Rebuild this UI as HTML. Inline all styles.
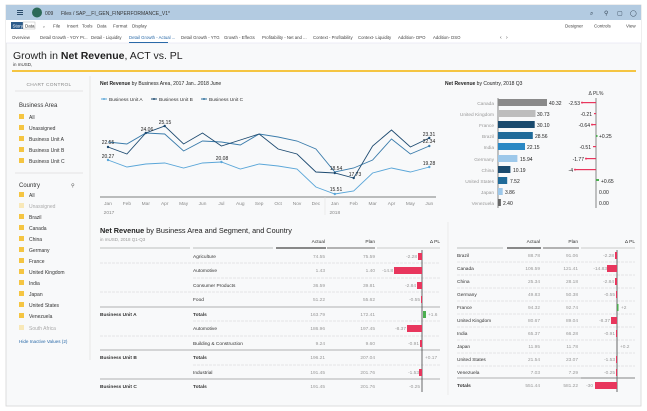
<!DOCTYPE html><html><head><meta charset="utf-8"><style>
body{margin:0;background:#fff;}
svg{display:block;font-family:"Liberation Sans",sans-serif;}
</style></head><body>
<svg width="647" height="411" viewBox="0 0 647 411">
<rect x="0" y="0" width="647" height="411" fill="#fff"/>
<rect x="6" y="5" width="635" height="401" fill="#f8f9fa" stroke="#d6d6d6" stroke-width="0.8"/>
<!-- shell bar -->
<rect x="6" y="5" width="635" height="15" fill="#b3cbe1"/>
<rect x="17" y="10" width="6" height="1" fill="#2c4d6c"/><rect x="17" y="12" width="6" height="1" fill="#2c4d6c"/><rect x="17" y="14" width="6" height="1" fill="#2c4d6c"/>
<circle cx="37" cy="12.5" r="5" fill="#2d6a58"/>
<text x="45" y="15" font-size="5" fill="#333">009</text>
<text x="61" y="15" font-size="5" fill="#333">Files  /  SAP__FI_GEN_FINPERFORMANCE_V1*</text>
<text x="590" y="15" font-size="6" fill="#345">⌕</text><text x="604" y="15" font-size="6" fill="#345">⚲</text><text x="617" y="15" font-size="6" fill="#345">▢</text><text x="630" y="15" font-size="6" fill="#345">◯</text>
<!-- toolbar -->
<rect x="6" y="20" width="635" height="11" fill="#fff"/>
<rect x="11" y="22" width="12" height="7" fill="#2c5b8a"/><text x="12.5" y="27.5" font-size="4.5" fill="#fff">Story</text>
<rect x="23" y="22" width="12" height="7" fill="#fff" stroke="#aaa" stroke-width="0.4"/><text x="25" y="27.5" font-size="4.5" fill="#333">Data</text>
<g font-size="4.5" fill="#444"><text x="42" y="27.5">⌄</text><text x="53" y="27.5">File</text><text x="67" y="27.5">Insert</text><text x="82" y="27.5">Tools</text><text x="97" y="27.5">Data</text><text x="113" y="27.5">Format</text><text x="132" y="27.5">Display</text></g>
<text x="565" y="27.5" font-size="4.5" fill="#444">Designer</text><text x="594" y="27.5" font-size="4.5" fill="#444">Controls</text><text x="626" y="27.5" font-size="4.5" fill="#444">View</text>
<!-- tabs -->
<rect x="6" y="31" width="635" height="12" fill="#fff"/>
<line x1="6" y1="43" x2="641" y2="43" stroke="#dde" stroke-width="0.5"/>
<g font-size="4.3" fill="#444">
<text x="12" y="39">Overview</text><text x="40" y="39">Detail Growth - YOY Pr...</text><text x="91" y="39">Detail - Liquidity</text>
<text x="129" y="39" fill="#2a6aa8">Detail Growth - Actual ...</text><text x="181" y="39">Detail Growth - YTG</text>
<text x="224" y="39">Growth - Effects</text><text x="262" y="39">Profitability - Net and ...</text><text x="313" y="39">Context - Profitability</text>
<text x="358" y="39">Context- Liquidity</text><text x="398" y="39">Addition- DPO</text><text x="433" y="39">Addition- DSO</text>
<text x="500" y="39" font-size="5">‹</text><text x="506" y="39" font-size="5">›</text></g>
<rect x="129" y="42" width="39" height="1" fill="#2a6aa8"/>
<!-- title -->
<text x="13" y="59" font-size="10.5" fill="#222">Growth in <tspan font-weight="bold">Net Revenue</tspan>, ACT vs. PL</text>
<text x="13" y="66" font-size="4.5" fill="#333">in mUSD,</text>
<rect x="12" y="70" width="624" height="2" fill="#f5c542"/>
<!-- left panel -->
<line x1="90" y1="76" x2="90" y2="360" stroke="#e2e2e2" stroke-width="0.8"/>
<text x="49" y="86" font-size="4.8" fill="#888" text-anchor="middle" letter-spacing="0.3">CHART CONTROL</text>
<line x1="15" y1="91" x2="83" y2="91" stroke="#ddd" stroke-width="0.8"/>
<text x="19" y="107" font-size="6" fill="#333">Business Area</text>
<g font-size="5" fill="#333">
<g fill="#f5c542"><rect x="19" y="114" width="5" height="5"/><rect x="19" y="125" width="5" height="5"/><rect x="19" y="136" width="5" height="5"/><rect x="19" y="147" width="5" height="5"/><rect x="19" y="158" width="5" height="5"/></g>
<text x="29" y="119">All</text><text x="29" y="130">Unassigned</text><text x="29" y="141">Business Unit A</text><text x="29" y="152">Business Unit B</text><text x="29" y="163">Business Unit C</text>
</g>
<line x1="15" y1="173" x2="83" y2="173" stroke="#ddd" stroke-width="0.8"/>
<text x="19" y="187" font-size="6" fill="#333">Country</text><text x="71" y="187" font-size="5" fill="#555">⚲</text>
<g font-size="5" fill="#333">
<g fill="#f5c542"><rect x="19" y="192" width="5" height="5"/><rect x="19" y="214" width="5" height="5"/><rect x="19" y="225" width="5" height="5"/><rect x="19" y="236" width="5" height="5"/><rect x="19" y="247" width="5" height="5"/><rect x="19" y="258" width="5" height="5"/><rect x="19" y="269" width="5" height="5"/><rect x="19" y="280" width="5" height="5"/><rect x="19" y="291" width="5" height="5"/><rect x="19" y="302" width="5" height="5"/><rect x="19" y="313" width="5" height="5"/></g>
<g fill="#f8e8b8"><rect x="19" y="203" width="5" height="5"/><rect x="19" y="325" width="5" height="5"/></g>
<text x="29" y="197">All</text><text x="29" y="208" fill="#aaa">Unassigned</text><text x="29" y="219">Brazil</text><text x="29" y="230">Canada</text><text x="29" y="241">China</text><text x="29" y="252">Germany</text><text x="29" y="263">France</text><text x="29" y="274">United Kingdom</text><text x="29" y="285">India</text><text x="29" y="296">Japan</text><text x="29" y="307">United States</text><text x="29" y="318">Venezuela</text><text x="29" y="330" fill="#aaa">South Africa</text>
<text x="19" y="343" fill="#2a6aa8" font-size="4.6">Hide Inactive Values (2)</text>
</g>
<!-- line chart -->
<text x="100" y="85" font-size="5" fill="#222"><tspan font-weight="bold">Net Revenue</tspan> by Business Area, 2017 Jan...2018 June</text>
<g font-size="4.8" fill="#333">
<line x1="101" y1="99" x2="107" y2="99" stroke="#5aa6d8"/><circle cx="104" cy="99" r="1" fill="#5aa6d8"/><text x="109" y="101">Business Unit A</text>
<line x1="151" y1="99" x2="157" y2="99" stroke="#1d4a70"/><circle cx="154" cy="99" r="1" fill="#1d4a70"/><text x="159" y="101">Business Unit B</text>
<line x1="201" y1="99" x2="207" y2="99" stroke="#2e6f9c"/><circle cx="204" cy="99" r="1" fill="#2e6f9c"/><text x="209" y="101">Business Unit C</text>
</g>
<polyline fill="none" stroke="#3b7cab" stroke-width="0.9" points="108,142 126.9,144 145.8,133 164.7,134 183.6,151 202.5,141 221.4,142 240.3,145 259.2,134 278.1,137 297,141 315.9,149 334.8,172 353.7,168 372.6,160 391.5,139 410.4,154 429.3,146"/>
<polyline fill="none" stroke="#1d4a70" stroke-width="0.9" points="108,147 126.9,154 145.8,133 164.7,126 183.6,144 202.5,133 221.4,146 240.3,140 259.2,134 278.1,149 297,154 315.9,172 334.8,173 353.7,178 372.6,146 391.5,130 410.4,147 429.3,138"/>
<polyline fill="none" stroke="#5aa6d8" stroke-width="0.9" points="108,160 126.9,167 145.8,164 164.7,163 183.6,168 202.5,163 221.4,162 240.3,169 259.2,164 278.1,166 297,169 315.9,187 334.8,194 353.7,191 372.6,173 391.5,168 410.4,172 429.3,167"/>
<g fill="#1d4a70"><circle cx="108" cy="147" r="1.2"/><circle cx="145.8" cy="133" r="1.2"/><circle cx="164.7" cy="126" r="1.2"/><circle cx="334.8" cy="173" r="1.2"/><circle cx="353.7" cy="178" r="1.2"/><circle cx="429.3" cy="138" r="1.2"/></g>
<g fill="#3b7cab"><circle cx="429.3" cy="146" r="1.2"/></g>
<g fill="#5aa6d8"><circle cx="108" cy="160" r="1.2"/><circle cx="221.4" cy="162" r="1.2"/><circle cx="334.8" cy="194" r="1.2"/><circle cx="429.3" cy="167" r="1.2"/></g>
<g font-size="5" fill="#222" text-anchor="middle">
<text x="108" y="144">22.55</text><text x="147" y="131">24.06</text><text x="165" y="124">25.15</text><text x="108" y="158">20.27</text><text x="222" y="160">20.08</text>
<text x="336" y="170">18.54</text><text x="355" y="176">17.73</text><text x="336" y="191">15.51</text>
<text x="429" y="136">23.31</text><text x="429" y="143">22.34</text><text x="429" y="165">19.28</text></g>
<line x1="100" y1="197" x2="436" y2="197" stroke="#555" stroke-width="0.7"/>
<line x1="325" y1="197" x2="325" y2="215" stroke="#ddd" stroke-width="0.5"/>
<g font-size="4.8" fill="#888" text-anchor="middle">
<text x="108" y="205">Jan</text><text x="126.9" y="205">Feb</text><text x="145.8" y="205">Mar</text><text x="164.7" y="205">Apr</text><text x="183.6" y="205">May</text><text x="202.5" y="205">Jun</text><text x="221.4" y="205">Jul</text><text x="240.3" y="205">Aug</text><text x="259.2" y="205">Sep</text><text x="278.1" y="205">Oct</text><text x="297" y="205">Nov</text><text x="315.9" y="205">Dec</text><text x="334.8" y="205">Jan</text><text x="353.7" y="205">Feb</text><text x="372.6" y="205">Mar</text><text x="391.5" y="205">Apr</text><text x="410.4" y="205">May</text><text x="429.3" y="205">Jun</text>
<text x="109" y="214">2017</text><text x="334.8" y="214">2018</text></g>
<!-- bar chart by country -->
<text x="445" y="85" font-size="5" fill="#222"><tspan font-weight="bold">Net Revenue</tspan> by Country, 2018 Q3</text>
<text x="596" y="95" font-size="5" fill="#333" text-anchor="middle">Δ PL%</text>
<line x1="498" y1="98" x2="498" y2="208" stroke="#555" stroke-width="0.7"/>
<line x1="596" y1="98" x2="596" y2="208" stroke="#555" stroke-width="0.7"/>
<g font-size="4.8" text-anchor="end" fill="#999">
<text x="494" y="105">Canada</text><text x="494" y="116">United Kingdom</text><text x="494" y="127">France</text><text x="494" y="138">Brazil</text><text x="494" y="149">India</text><text x="494" y="161">Germany</text><text x="494" y="172">China</text><text x="494" y="183">United States</text><text x="494" y="194">Japan</text><text x="494" y="205">Venezuela</text></g>
<rect x="498" y="99" width="49" height="7" fill="#8a8a8a"/>
<rect x="498" y="110" width="37.5" height="7" fill="#bdbdbd"/>
<rect x="498" y="121" width="36.7" height="7" fill="#1a4a6e"/>
<rect x="498" y="132" width="34.8" height="7" fill="#1f6a99"/>
<rect x="498" y="143" width="27" height="7" fill="#2a88c4"/>
<rect x="498" y="155" width="19.4" height="7" fill="#9dc8ea"/>
<rect x="498" y="166" width="12.4" height="7" fill="#1a4a6e"/>
<rect x="498" y="177" width="9.2" height="7" fill="#1f6a99"/>
<rect x="498" y="188" width="4.7" height="7" fill="#9dc8ea"/>
<rect x="498" y="199" width="2.9" height="7" fill="#666"/>
<g font-size="5" fill="#222">
<text x="549" y="105">40.32</text><text x="537" y="116">30.73</text><text x="537" y="127">30.10</text><text x="535" y="138">28.56</text><text x="527" y="149">22.15</text><text x="520" y="161">15.94</text><text x="513" y="172">10.19</text><text x="510" y="183">7.52</text><text x="505" y="194">3.86</text><text x="503" y="205">2.40</text></g>
<g fill="#e8365d">
<rect x="582" y="102" width="14" height="1.2"/><rect x="594" y="113" width="2" height="1.2"/><rect x="592" y="124" width="4" height="1.2"/><rect x="593" y="146" width="3" height="1.2"/><rect x="586" y="158" width="10" height="1.2"/><rect x="575" y="169" width="21" height="1.2"/></g>
<g fill="#e8365d"><circle cx="582" cy="102.6" r="1"/><circle cx="592" cy="124.6" r="1"/><circle cx="586" cy="158.6" r="1"/><circle cx="575" cy="169.6" r="1"/></g>
<rect x="596" y="135" width="1.5" height="2" fill="#4caf50"/><rect x="596" y="179" width="3" height="2" fill="#4caf50"/>
<g font-size="5" fill="#222">
<text x="580" y="105" text-anchor="end">-2.53</text><text x="592" y="116" text-anchor="end">-0.21</text><text x="590" y="127" text-anchor="end">-0.64</text><text x="599" y="138">+0.25</text><text x="591" y="149" text-anchor="end">-0.51</text><text x="584" y="161" text-anchor="end">-1.77</text><text x="573" y="172" text-anchor="end">-4</text><text x="601" y="183">+0.65</text><text x="599" y="194">0.00</text><text x="599" y="205">0.00</text></g>
<!-- bottom left table -->
<text x="100" y="233" font-size="7.3" fill="#222"><tspan font-weight="bold">Net Revenue</tspan> by Business Area and Segment, and Country</text>
<text x="100" y="241" font-size="4.5" fill="#999">in mUSD, 2018 Q1-Q3</text>
<g font-size="4.8" fill="#333" text-anchor="end"><text x="325" y="243">Actual</text><text x="375" y="243">Plan</text><text x="440" y="243">Δ PL</text></g>
<line x1="100" y1="248" x2="190" y2="248" stroke="#aaa" stroke-width="0.8"/>
<line x1="193" y1="248" x2="273" y2="248" stroke="#aaa" stroke-width="0.8"/>
<line x1="276" y1="248" x2="326" y2="248" stroke="#444" stroke-width="1.2"/>
<line x1="327" y1="248" x2="375" y2="248" stroke="#888" stroke-width="1.2"/>
<line x1="377" y1="248" x2="440" y2="248" stroke="#bbb" stroke-width="0.8"/>
<g stroke="#d0d0d0" stroke-width="0.5" stroke-dasharray="3,1">
<line x1="100" y1="263" x2="440" y2="263"/><line x1="193" y1="278" x2="440" y2="278"/><line x1="100" y1="292" x2="440" y2="292"/><line x1="193" y1="321" x2="440" y2="321"/><line x1="100" y1="336" x2="440" y2="336"/><line x1="193" y1="365" x2="440" y2="365"/></g>
<g stroke="#999" stroke-width="0.8"><line x1="100" y1="307" x2="440" y2="307"/><line x1="100" y1="350" x2="440" y2="350"/><line x1="100" y1="379" x2="440" y2="379"/></g>
<g font-size="4.8" fill="#333">
<text x="193" y="258">Agriculture</text><text x="193" y="272">Automotive</text><text x="193" y="287">Consumer Products</text><text x="193" y="301">Food</text>
<text x="100" y="316" font-weight="bold">Business Unit A</text><text x="193" y="316" font-weight="bold">Totals</text>
<text x="193" y="330">Automotive</text><text x="193" y="345">Building &amp; Construction</text>
<text x="100" y="359" font-weight="bold">Business Unit B</text><text x="193" y="359" font-weight="bold">Totals</text>
<text x="193" y="374">Industrial</text>
<text x="100" y="388" font-weight="bold">Business Unit C</text><text x="193" y="388" font-weight="bold">Totals</text></g>
<g font-size="4.8" fill="#999" text-anchor="end">
<text x="325" y="258">74.55</text><text x="375" y="258">75.59</text>
<text x="325" y="272">1.43</text><text x="375" y="272">1.40</text>
<text x="325" y="287">36.59</text><text x="375" y="287">39.81</text>
<text x="325" y="301">51.22</text><text x="375" y="301">55.62</text>
<text x="325" y="316">163.79</text><text x="375" y="316">172.41</text>
<text x="325" y="330">186.96</text><text x="375" y="330">197.45</text>
<text x="325" y="345">9.24</text><text x="375" y="345">9.60</text>
<text x="325" y="359">196.21</text><text x="375" y="359">207.04</text>
<text x="325" y="374">191.45</text><text x="375" y="374">201.76</text>
<text x="325" y="388">191.45</text><text x="375" y="388">201.76</text>
<text x="417" y="258">-2.28</text><text x="393" y="272">-14.8</text><text x="416" y="287">-2.84</text><text x="420" y="301">-0.55</text><text x="406" y="330">-8.37</text><text x="419" y="345">-0.91</text><text x="419" y="374">-1.53</text><text x="420" y="388">-0.25</text></g>
<g font-size="4.8" fill="#999"><text x="428" y="316">+1.6</text><text x="425" y="359">+0.17</text></g>
<line x1="422" y1="250" x2="422" y2="392" stroke="#444" stroke-width="0.8"/>
<g fill="#e8365d"><rect x="418" y="253" width="4" height="7"/><rect x="394" y="267" width="28" height="7"/><rect x="417" y="282" width="5" height="7"/><rect x="421" y="296" width="1" height="7"/><rect x="407" y="325" width="15" height="7"/><rect x="420" y="340" width="2" height="7"/><rect x="419" y="369" width="3" height="7"/></g>
<rect x="423" y="311" width="3" height="7" fill="#4caf50"/>
<!-- bottom right table -->
<line x1="448" y1="222" x2="448" y2="395" stroke="#e2e2e2" stroke-width="0.6"/>
<g font-size="4.8" fill="#333" text-anchor="end"><text x="540" y="243">Actual</text><text x="578" y="243">Plan</text><text x="635" y="243">Δ PL</text></g>
<line x1="457" y1="248" x2="503" y2="248" stroke="#aaa" stroke-width="0.8"/>
<line x1="507" y1="248" x2="541" y2="248" stroke="#444" stroke-width="1.2"/>
<line x1="543" y1="248" x2="579" y2="248" stroke="#888" stroke-width="1.2"/>
<line x1="581" y1="248" x2="635" y2="248" stroke="#bbb" stroke-width="0.8"/>
<g stroke="#d0d0d0" stroke-width="0.5" stroke-dasharray="3,1">
<line x1="457" y1="262" x2="635" y2="262"/><line x1="457" y1="275" x2="635" y2="275"/><line x1="457" y1="288" x2="635" y2="288"/><line x1="457" y1="301" x2="635" y2="301"/><line x1="457" y1="314" x2="635" y2="314"/><line x1="457" y1="327" x2="635" y2="327"/><line x1="457" y1="340" x2="635" y2="340"/><line x1="457" y1="353" x2="635" y2="353"/><line x1="457" y1="366" x2="635" y2="366"/></g>
<line x1="457" y1="378" x2="635" y2="378" stroke="#999" stroke-width="0.8"/>
<g font-size="4.8" fill="#333">
<text x="457" y="257">Brazil</text><text x="457" y="270">Canada</text><text x="457" y="283">China</text><text x="457" y="296">Germany</text><text x="457" y="309">France</text><text x="457" y="322">United Kingdom</text><text x="457" y="335">India</text><text x="457" y="348">Japan</text><text x="457" y="361">United States</text><text x="457" y="374">Venezuela</text><text x="457" y="387" font-weight="bold">Totals</text></g>
<g font-size="4.8" fill="#999" text-anchor="end">
<text x="540" y="257">88.78</text><text x="578" y="257">91.06</text>
<text x="540" y="270">106.59</text><text x="578" y="270">121.41</text>
<text x="540" y="283">25.34</text><text x="578" y="283">28.18</text>
<text x="540" y="296">49.83</text><text x="578" y="296">50.38</text>
<text x="540" y="309">94.32</text><text x="578" y="309">92.74</text>
<text x="540" y="322">80.67</text><text x="578" y="322">89.04</text>
<text x="540" y="335">65.37</text><text x="578" y="335">66.28</text>
<text x="540" y="348">11.95</text><text x="578" y="348">11.78</text>
<text x="540" y="361">21.54</text><text x="578" y="361">23.07</text>
<text x="540" y="374">7.03</text><text x="578" y="374">7.29</text>
<text x="540" y="387">551.44</text><text x="578" y="387">581.22</text>
<text x="614" y="257">-2.28</text><text x="607" y="270">-14.83</text><text x="614" y="283">-2.84</text><text x="615" y="296">-0.55</text><text x="610" y="322">-8.37</text><text x="615" y="335">-0.91</text><text x="615" y="361">-1.53</text><text x="615" y="374">-0.25</text><text x="593" y="387">-30</text></g>
<g font-size="4.8" fill="#999"><text x="621" y="309">+2</text><text x="620" y="348">+0.2</text></g>
<line x1="617" y1="250" x2="617" y2="392" stroke="#444" stroke-width="0.8"/>
<g fill="#e8365d"><rect x="615" y="252" width="2" height="7"/><rect x="607" y="265" width="10" height="7"/><rect x="615" y="278" width="2" height="7"/><rect x="616" y="291" width="1" height="7"/><rect x="611" y="317" width="6" height="7"/><rect x="616" y="330" width="1" height="7"/><rect x="616" y="356" width="1" height="7"/><rect x="616" y="369" width="1" height="7"/><rect x="595" y="382" width="22" height="7"/></g>
<rect x="617" y="304" width="1.5" height="7" fill="#4caf50"/>
<line x1="581" y1="378" x2="635" y2="378" stroke="#777" stroke-width="0.8"/>
</svg>
</body></html>
